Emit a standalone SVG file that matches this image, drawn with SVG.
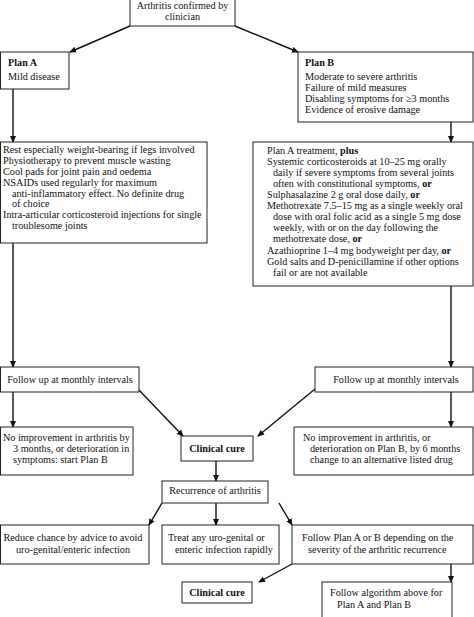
<svg xmlns="http://www.w3.org/2000/svg" width="474" height="617" viewBox="0 0 474 617">
<style>
.b{fill:#fff;stroke:#222;stroke-width:1}
.c{stroke:#111;stroke-width:1.4;fill:none}
text{font-family:"Liberation Serif","Times New Roman",serif;font-size:10.2px;fill:#111}
.bd{font-weight:bold}
.m{text-anchor:middle}
</style>
<defs>
<marker id="ah" markerWidth="7" markerHeight="7" refX="6" refY="3.5" orient="auto" markerUnits="userSpaceOnUse">
<path d="M0,0.5 L7,3.5 L0,6.5 z" fill="#111"/>
</marker>
</defs>
<rect width="474" height="617" fill="#fff"/>
<g id="connectors">
<line class="c" x1="130" y1="26" x2="70" y2="52" marker-end="url(#ah)"/>
<line class="c" x1="235" y1="26" x2="298" y2="52" marker-end="url(#ah)"/>
<line class="c" x1="13" y1="89" x2="13" y2="142" marker-end="url(#ah)"/>
<line class="c" x1="451" y1="122" x2="451" y2="142" marker-end="url(#ah)"/>
<line class="c" x1="13" y1="243" x2="13" y2="367" marker-end="url(#ah)"/>
<line class="c" x1="451" y1="286" x2="451" y2="367" marker-end="url(#ah)"/>
<line class="c" x1="13" y1="392" x2="13" y2="427" marker-end="url(#ah)"/>
<line class="c" x1="451" y1="392" x2="451" y2="427" marker-end="url(#ah)"/>
<line class="c" x1="138" y1="389" x2="183" y2="436" marker-end="url(#ah)"/>
<line class="c" x1="315" y1="389" x2="258" y2="436" marker-end="url(#ah)"/>
<line class="c" x1="216" y1="461" x2="216" y2="481" marker-end="url(#ah)"/>
<line class="c" x1="162" y1="503" x2="149" y2="525" marker-end="url(#ah)"/>
<line class="c" x1="216" y1="503" x2="216" y2="525" marker-end="url(#ah)"/>
<line class="c" x1="279" y1="503" x2="292" y2="525" marker-end="url(#ah)"/>
<line class="c" x1="292" y1="564" x2="259" y2="582" marker-end="url(#ah)"/>
<line class="c" x1="451" y1="564" x2="451" y2="582" marker-end="url(#ah)"/>
</g>
<g id="start">
<rect class="b" x="130" y="-2" width="105" height="28"/>
<text class="m" x="182.5" y="9">Arthritis confirmed by</text>
<text class="m" x="182.5" y="20">clinician</text>
</g>
<g id="planA">
<rect class="b" x="0.5" y="52" width="68.5" height="37"/>
<text class="bd" x="8" y="66">Plan A</text>
<text x="8" y="80">Mild disease</text>
</g>
<g id="planB">
<rect class="b" x="298" y="52" width="175" height="70"/>
<text class="bd" x="305" y="66">Plan B</text>
<text x="305" y="80">Moderate to severe arthritis</text>
<text x="305" y="91">Failure of mild measures</text>
<text x="305" y="102">Disabling symptoms for ≥3 months</text>
<text x="305" y="113">Evidence of erosive damage</text>
</g>
<g id="planAtreat">
<rect class="b" x="0.5" y="142" width="206.5" height="101"/>
<text x="3" y="153">Rest especially weight-bearing if legs involved</text>
<text x="3" y="164">Physiotherapy to prevent muscle wasting</text>
<text x="3" y="175">Cool pads for joint pain and oedema</text>
<text x="3" y="185.5">NSAIDs used regularly for maximum</text>
<text x="12" y="196.5">anti-inflammatory effect. No definite drug</text>
<text x="12" y="207">of choice</text>
<text x="3" y="218">Intra-articular corticosteroid injections for single</text>
<text x="12" y="229">troublesome joints</text>
</g>
<g id="planBtreat">
<rect class="b" x="253" y="142" width="220" height="144"/>
<text x="267" y="154">Plan A treatment, <tspan class="bd">plus</tspan></text>
<text x="267" y="165">Systemic corticosteroids at 10–25 mg orally</text>
<text x="273" y="176">daily if severe symptoms from several joints</text>
<text x="273" y="186.5">often with constitutional symptoms, <tspan class="bd">or</tspan></text>
<text x="267" y="197.5">Sulphasalazine 2 g oral dose daily, <tspan class="bd">or</tspan></text>
<text x="267" y="209">Methotrexate 7.5–15 mg as a single weekly oral</text>
<text x="273" y="219.5">dose with oral folic acid as a single 5 mg dose</text>
<text x="273" y="231">weekly, with or on the day following the</text>
<text x="273" y="242">methotrexate dose, <tspan class="bd">or</tspan></text>
<text x="267" y="254">Azathioprine 1–4 mg bodyweight per day, <tspan class="bd">or</tspan></text>
<text x="267" y="265">Gold salts and D-penicillamine if other options</text>
<text x="273" y="276">fail or are not available</text>
</g>
<g id="followA">
<rect class="b" x="0.5" y="367" width="138.5" height="25"/>
<text class="m" x="70" y="383">Follow up at monthly intervals</text>
</g>
<g id="followB">
<rect class="b" x="315" y="367" width="158" height="25"/>
<text class="m" x="396" y="383">Follow up at monthly intervals</text>
</g>
<g id="noImpA">
<rect class="b" x="0.5" y="427" width="132.5" height="48"/>
<text x="3" y="441">No improvement in arthritis by</text>
<text x="13" y="452">3 months, or deterioration in</text>
<text x="13" y="463">symptoms: start Plan B</text>
</g>
<g id="cure1">
<rect class="b" x="181" y="436" width="72" height="25"/>
<text class="m bd" x="217" y="452">Clinical cure</text>
</g>
<g id="noImpB">
<rect class="b" x="294" y="427" width="179" height="48"/>
<text x="303" y="441">No improvement in arthritis, or</text>
<text x="310" y="452">deterioration on Plan B, by 6 months</text>
<text x="310" y="463">change to an alternative listed drug</text>
</g>
<g id="recurrence">
<rect class="b" x="162" y="481" width="106" height="22"/>
<text class="m" x="215" y="494">Recurrence of arthritis</text>
</g>
<g id="reduce">
<rect class="b" x="0.5" y="525" width="148.5" height="39"/>
<text class="m" x="73" y="541">Reduce chance by advice to avoid</text>
<text class="m" x="73" y="553">uro-genital/enteric infection</text>
</g>
<g id="treat">
<rect class="b" x="162" y="525" width="117" height="39"/>
<text x="168" y="541">Treat any uro-genital or</text>
<text x="175" y="553">enteric infection rapidly</text>
</g>
<g id="followAB">
<rect class="b" x="292" y="525" width="181" height="39"/>
<text x="302" y="541">Follow Plan A or B depending on the</text>
<text x="308" y="553">severity of the arthritic recurrence</text>
</g>
<g id="cure2">
<rect class="b" x="182" y="582" width="70" height="21"/>
<text class="m bd" x="217" y="596">Clinical cure</text>
</g>
<g id="algorithm">
<rect class="b" x="322" y="582" width="130" height="40"/>
<text x="330" y="596">Follow algorithm above for</text>
<text x="337" y="608">Plan A and Plan B</text>
</g>
</svg>
